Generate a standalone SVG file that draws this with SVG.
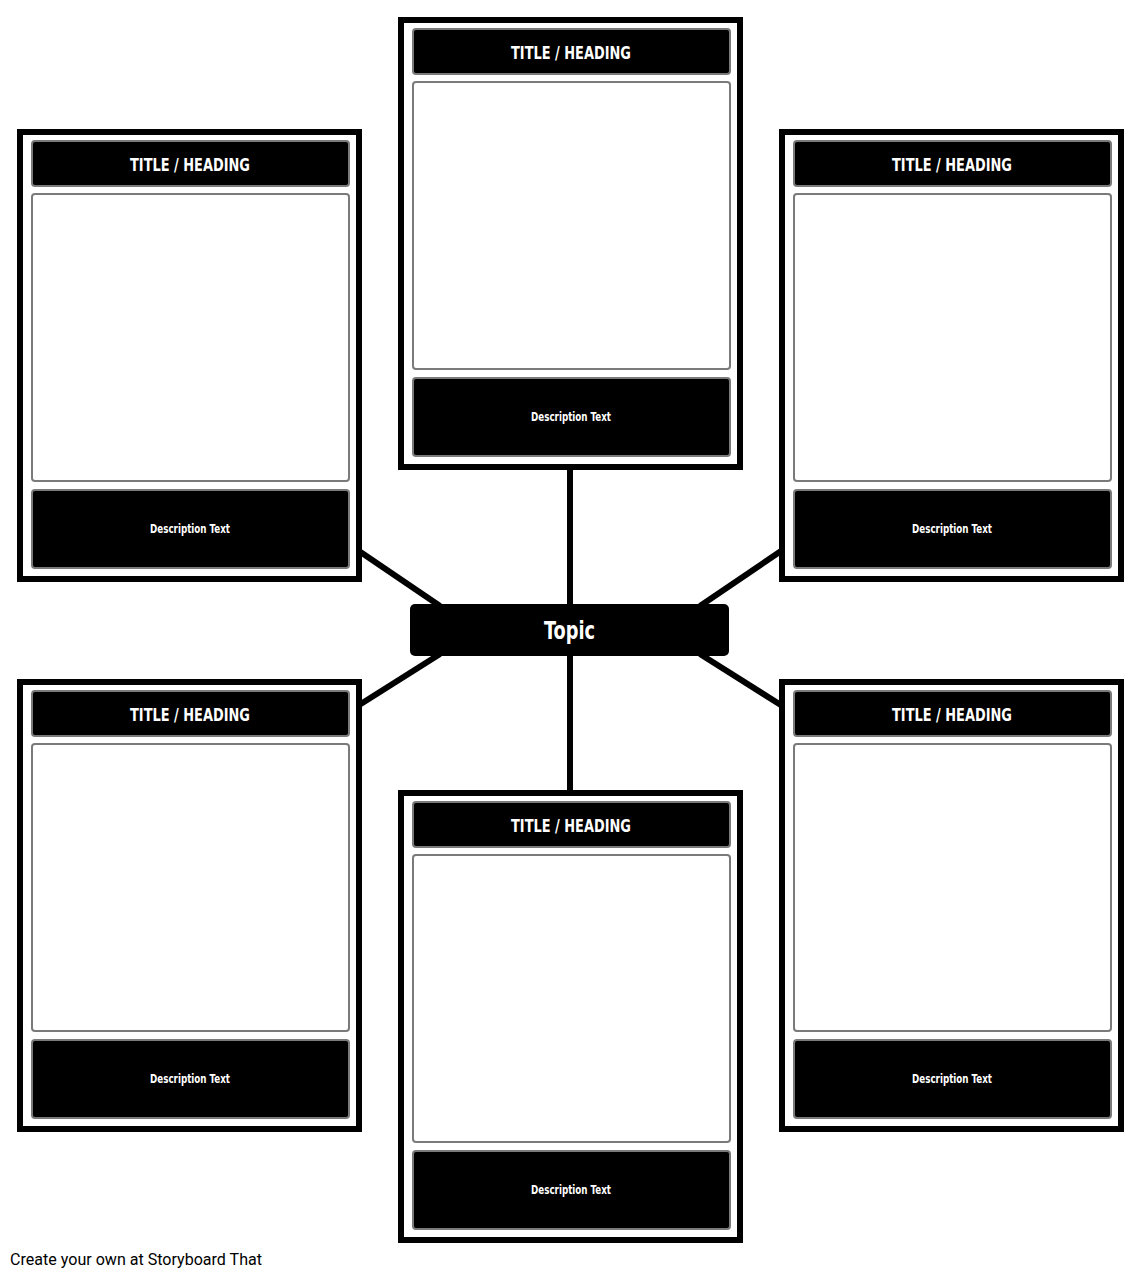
<svg xmlns="http://www.w3.org/2000/svg" width="1143" height="1278" viewBox="0 0 1143 1278">
<style>
.frame{fill:#fff;stroke:#000;stroke-width:6}
.bar{fill:#000;stroke:#7a7a7a;stroke-width:2}
.img{fill:#fff;stroke:#7a7a7a;stroke-width:2}
.title{font-family:"Liberation Sans Narrow","DejaVu Sans Condensed","Liberation Sans",sans-serif;font-weight:bold;font-size:18px;fill:#fff;text-anchor:middle}
.desc{font-family:"Liberation Sans Narrow","DejaVu Sans Condensed","Liberation Sans",sans-serif;font-weight:bold;font-size:12px;fill:#fff;text-anchor:middle}
.topic{font-family:"Liberation Sans Narrow","DejaVu Sans Condensed","Liberation Sans",sans-serif;font-weight:bold;font-size:25px;fill:#fff;text-anchor:middle}
.conn{stroke:#000;stroke-width:6;fill:none}
.foot{font-family:Roboto,"Liberation Sans",sans-serif;font-size:16px;fill:#000}
</style>
<rect width="1143" height="1278" fill="#fff"/>
<g id="connectors">
<line class="conn" x1="570" y1="465" x2="570" y2="610"/>
<line class="conn" x1="570" y1="650" x2="570" y2="795"/>
<line class="conn" x1="356" y1="549" x2="440" y2="606"/>
<line class="conn" x1="356" y1="707" x2="440" y2="654"/>
<line class="conn" x1="784" y1="549" x2="700" y2="606"/>
<line class="conn" x1="784" y1="707" x2="700" y2="654"/>
</g>
<g id="topic">
<rect x="410" y="604" width="319" height="52" rx="5" fill="#000"/>
<text class="topic" x="569.5" y="639" textLength="51" lengthAdjust="spacingAndGlyphs">Topic</text>
</g>
<g id="card-top" transform="translate(398,17)">
<rect class="frame" x="3" y="3" width="339" height="447"/>
<rect class="bar" x="15" y="12" width="317" height="45" rx="3"/>
<rect class="img" x="15" y="65" width="317" height="287" rx="3"/>
<rect class="bar" x="15" y="361" width="317" height="78" rx="3"/>
<text class="title" x="173" y="41.5" textLength="120" lengthAdjust="spacingAndGlyphs">TITLE / HEADING</text>
<text class="desc" x="173" y="403.5" textLength="80" lengthAdjust="spacingAndGlyphs">Description Text</text>
</g>
<g id="card-top-left" transform="translate(17,129)">
<rect class="frame" x="3" y="3" width="339" height="447"/>
<rect class="bar" x="15" y="12" width="317" height="45" rx="3"/>
<rect class="img" x="15" y="65" width="317" height="287" rx="3"/>
<rect class="bar" x="15" y="361" width="317" height="78" rx="3"/>
<text class="title" x="173" y="41.5" textLength="120" lengthAdjust="spacingAndGlyphs">TITLE / HEADING</text>
<text class="desc" x="173" y="403.5" textLength="80" lengthAdjust="spacingAndGlyphs">Description Text</text>
</g>
<g id="card-top-right" transform="translate(779,129)">
<rect class="frame" x="3" y="3" width="339" height="447"/>
<rect class="bar" x="15" y="12" width="317" height="45" rx="3"/>
<rect class="img" x="15" y="65" width="317" height="287" rx="3"/>
<rect class="bar" x="15" y="361" width="317" height="78" rx="3"/>
<text class="title" x="173" y="41.5" textLength="120" lengthAdjust="spacingAndGlyphs">TITLE / HEADING</text>
<text class="desc" x="173" y="403.5" textLength="80" lengthAdjust="spacingAndGlyphs">Description Text</text>
</g>
<g id="card-bottom-left" transform="translate(17,679)">
<rect class="frame" x="3" y="3" width="339" height="447"/>
<rect class="bar" x="15" y="12" width="317" height="45" rx="3"/>
<rect class="img" x="15" y="65" width="317" height="287" rx="3"/>
<rect class="bar" x="15" y="361" width="317" height="78" rx="3"/>
<text class="title" x="173" y="41.5" textLength="120" lengthAdjust="spacingAndGlyphs">TITLE / HEADING</text>
<text class="desc" x="173" y="403.5" textLength="80" lengthAdjust="spacingAndGlyphs">Description Text</text>
</g>
<g id="card-bottom-right" transform="translate(779,679)">
<rect class="frame" x="3" y="3" width="339" height="447"/>
<rect class="bar" x="15" y="12" width="317" height="45" rx="3"/>
<rect class="img" x="15" y="65" width="317" height="287" rx="3"/>
<rect class="bar" x="15" y="361" width="317" height="78" rx="3"/>
<text class="title" x="173" y="41.5" textLength="120" lengthAdjust="spacingAndGlyphs">TITLE / HEADING</text>
<text class="desc" x="173" y="403.5" textLength="80" lengthAdjust="spacingAndGlyphs">Description Text</text>
</g>
<g id="card-bottom" transform="translate(398,790)">
<rect class="frame" x="3" y="3" width="339" height="447"/>
<rect class="bar" x="15" y="12" width="317" height="45" rx="3"/>
<rect class="img" x="15" y="65" width="317" height="287" rx="3"/>
<rect class="bar" x="15" y="361" width="317" height="78" rx="3"/>
<text class="title" x="173" y="41.5" textLength="120" lengthAdjust="spacingAndGlyphs">TITLE / HEADING</text>
<text class="desc" x="173" y="403.5" textLength="80" lengthAdjust="spacingAndGlyphs">Description Text</text>
</g>
<text class="foot" x="10" y="1265" textLength="252" lengthAdjust="spacingAndGlyphs">Create your own at Storyboard That</text>
</svg>
